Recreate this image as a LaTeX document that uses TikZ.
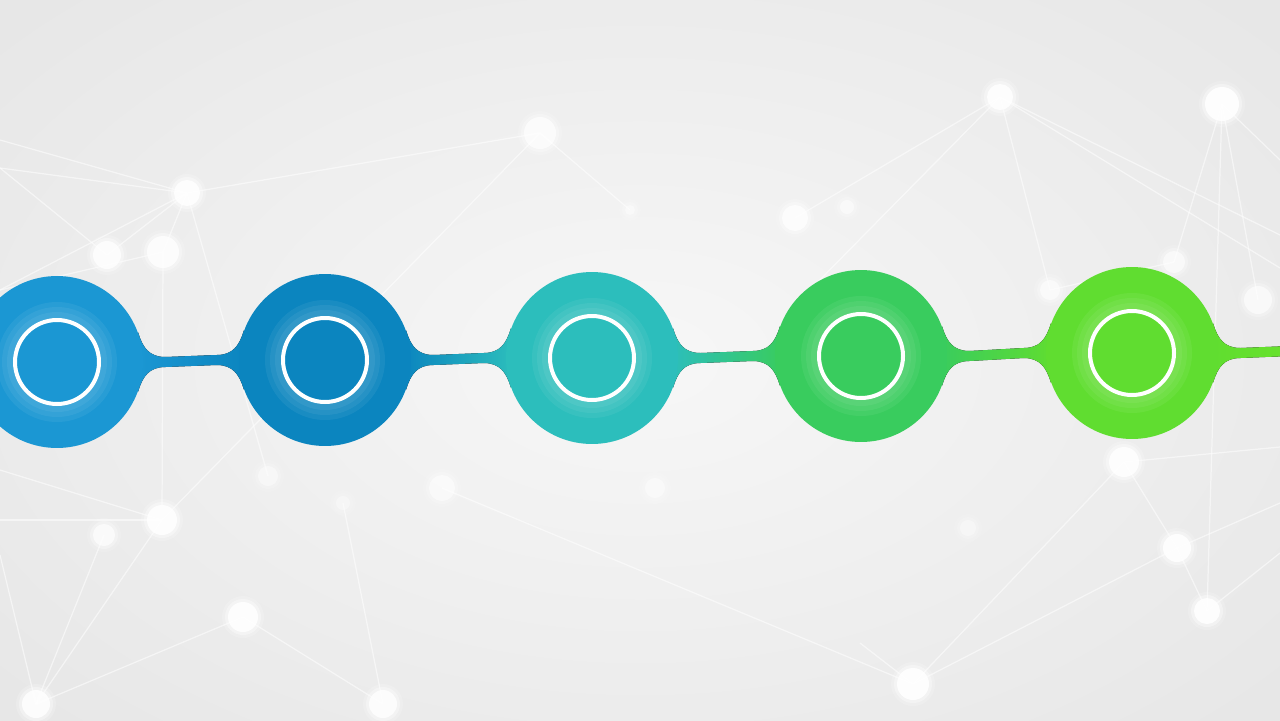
\documentclass[tikz,border=0pt]{standalone}
\usetikzlibrary{calc}

\definecolor{stepA}{RGB}{27,151,211}
\definecolor{stepB}{RGB}{11,133,191}
\definecolor{stepC}{RGB}{44,190,188}
\definecolor{stepD}{RGB}{57,204,94}
\definecolor{stepE}{RGB}{96,221,48}
\definecolor{stepF}{RGB}{104,226,44}
\definecolor{bgIn}{RGB}{247,247,247}
\definecolor{bgOut}{RGB}{231,231,231}

\pgfdeclarelayer{back}
\pgfdeclarelayer{links}
\pgfsetlayers{back,links,main}

\tikzset{
  net_line/.style={white,line width=0.7pt,opacity=.55},
  step_disc/.style={circle,minimum size=3.44cm,inner sep=0pt,draw=none},
  ring_line/.style={white,line width=0.08cm},
}

\begin{document}
\begin{tikzpicture}[
  x=0.02cm, y=-0.02cm,
  glow disc/.style={white,opacity=.06},
  ]

  \useasboundingbox (0,0) rectangle (1280,720);
  \clip (0,0) rectangle (1280,720);

  % the five steps
  \foreach \i/\x/\y/\c in {1/57/362/stepA, 2/325/360/stepB, 3/592/358/stepC,
      4/861/356/stepD, 5/1132/353/stepE}{
    \node[step_disc, fill=\c] (c\i) at (\x,\y) {};
  }
  \coordinate (tail) at (1290,351);

  % glow and ring inside every step
  \foreach \i/\c in {1/stepA, 2/stepB, 3/stepC, 4/stepD, 5/stepE}{
    \fill[glow disc] (c\i) circle[radius=60];
    \fill[glow disc] (c\i) circle[radius=55];
    \fill[glow disc] (c\i) circle[radius=50];
    \fill[\c] (c\i) circle[radius=42];
    \draw[ring_line] (c\i) circle[radius=42];
  }

  % links with flared ends
  \begin{pgfonlayer}{links}
  \foreach \a/\b/\ca/\cb in {1/2/stepA/stepB, 2/3/stepB/stepC,
      3/4/stepC/stepD, 4/5/stepD/stepE}{
    \fill[left color=\ca, right color=\cb]
      (c\a.20) .. controls ($(c\a.east)+(-0.5,-14)$) and ($(c\a.east)+(6,-5)$)
      .. ($(c\a.east)+(22,-5)$) -- ($(c\b.west)+(-22,-5)$)
      .. controls ($(c\b.west)+(-6,-5)$) and ($(c\b.west)+(0.5,-14)$) .. (c\b.160)
      -- ($(c\b.west)+(8,0)$) -- (c\b.200)
      .. controls ($(c\b.west)+(0.5,14)$) and ($(c\b.west)+(-6,5)$)
      .. ($(c\b.west)+(-22,5)$) -- ($(c\a.east)+(22,5)$)
      .. controls ($(c\a.east)+(6,5)$) and ($(c\a.east)+(-0.5,14)$) .. (c\a.340)
      -- ($(c\a.east)+(-8,0)$) -- cycle;
  }
  \fill[left color=stepE, right color=stepF]
    (c5.20) .. controls ($(c5.east)+(-0.5,-14)$) and ($(c5.east)+(6,-5)$)
    .. ($(c5.east)+(22,-5)$) -- ($(tail)+(0,-5)$) -- ($(tail)+(0,5)$)
    -- ($(c5.east)+(22,5)$) .. controls ($(c5.east)+(6,5)$) and ($(c5.east)+(-0.5,14)$)
    .. (c5.340) -- ($(c5.east)+(-8,0)$) -- cycle;
  \end{pgfonlayer}

  \begin{pgfonlayer}{back}
  \shade[inner color=bgIn, outer color=bgOut] (-200,-150) rectangle (1480,870);

  % network in the background
  \foreach \n/\x/\y in {A/1000/97, B/1222/104, C/540/133, D/187/193, E/107/255,
      F/163/252, G/795/218, H/847/207, I/1174/262, J/1258/300, K/1050/290,
      L/1124/462, M/1177/548, N/1207/611, O/913/684, P/968/528, Q/162/520,
      R/104/535, S/36/704, T/243/617, U/383/704, V/442/488, W/268/476,
      X/655/488, Y/630/210, Z/343/503,
      e1/0/140, e2/0/168, e3/0/290, e4/0/470, e5/0/520, e6/0/555,
      e7/1280/160, e8/1280/268, e9/1280/447, e10/1280/503, e11/1280/553,
      e12/860/643, f1/800/300, f2/1280/235}{
    \coordinate (n\n) at (\x,\y);
  }

  \foreach \a/\b in {D/e1, D/e2, D/C, D/E, D/F, D/e3, D/W, E/e2, F/e3, F/Q,
      Q/e4, Q/e5, Q/C, Q/S, R/S, S/e6, S/T, T/U, U/Z, V/O,
      A/f1, A/K, A/f2, A/e8, A/G, B/I, B/N, B/J, B/e7, I/K,
      L/O, L/M, L/e9, M/O, M/N, M/e10, N/e11, O/e12, C/Y}{
    \draw[net_line] (n\a) -- (n\b);
  }

  \foreach \n/\r/\o in {A/14/1, B/18/1, C/17/.8, D/14/1, E/15/.9, F/17/.9,
      G/14/.8, H/8/.6, I/12/.7, J/15/.7, K/11/.7, L/16/1, M/15/1, N/14/1,
      O/17/1, P/9/.4, Q/16/1, R/12/.8, S/15/1, T/16/1, U/15/.9, V/14/.6,
      W/11/.5, X/11/.5, Y/6/.5, Z/8/.4}{
    \fill[white,opacity=.18*\o] (n\n) circle[radius=\r+5];
    \fill[white,opacity=.35*\o] (n\n) circle[radius=\r+2];
    \fill[white,opacity=.85*\o] (n\n) circle[radius=\r-1];
  }
  \end{pgfonlayer}

\end{tikzpicture}
\end{document}
